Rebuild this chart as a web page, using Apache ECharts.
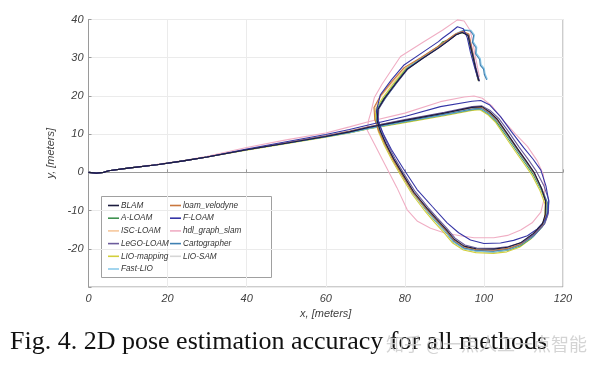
<!DOCTYPE html>
<html><head><meta charset="utf-8">
<script src="https://cdn.jsdelivr.net/npm/echarts@6/dist/echarts.min.js"></script>
<style>html,body{margin:0;padding:0;background:#fff}#c{width:600px;height:372px}</style>
</head><body><div id="c"></div>
<script>
// axis ticks
const xTicks = [0, 20, 40, 60, 80, 100, 120];
const yTicks = [-30, -20, -10, 0, 10, 20, 30, 40];
const legendCol1 = ['BLAM', 'A-LOAM', 'ISC-LOAM', 'LeGO-LOAM', 'LIO-mapping', 'Fast-LIO'];
const legendCol2 = ['loam_velodyne', 'F-LOAM', 'hdl_graph_slam', 'Cartographer', 'LIO-SAM'];

// trajectories [x, y] in meters
const BLAM = [[0,0],[2,-0.2],[3.8,0],[5.1,0.4],[10,1.1],[17.3,2.0],[24,3.0],[30,4.0],[40,5.9],[50,7.6],[60,9.4],[66,10.6],[71,11.8],[80,13.6],[90,15.5],[97,17.0],[99.5,17.2],[101.5,15.8],[103.4,13.9],[106,10],[108.5,6.2],[110.7,3],[112.7,0],[114.5,-4],[115.6,-7.5],[115.5,-11],[114.8,-13.5],[112.5,-16],[109.3,-18.4],[106,-19.6],[102.5,-20.1],[98,-20],[95,-19.3],[92.5,-17.5],[90.5,-15],[88,-12.2],[85.7,-9.5],[82.3,-5.2],[79.5,-0.5],[77.2,3.5],[75.2,7.5],[73.8,10.8],[73,13.5],[73.2,16.5],[74.8,19.3],[77.5,23],[80.6,27],[84.5,29.8],[88.5,32.5],[91,34.4],[93,36],[94.5,36.6],[96,35.8],[96.6,33],[97.3,30],[97.9,27.3],[98.6,24.5],[98.8,23.8]];
const loamVelodyne = [[0,0],[2,-0.2],[3.8,0],[5.1,0.4],[10,1.1],[17.3,2.0],[24,3.0],[30,4.0],[40,6.0],[50,7.8],[60,9.6],[66,10.8],[71,12.0],[80,13.7],[90,15.6],[97,16.9],[99.4,17.0],[101.5,15.6],[103.4,13.6],[106,9.8],[108.5,6.0],[110.7,2.8],[112.7,-0.3],[114.6,-4.2],[115.7,-7.8],[115.6,-11.3],[114.8,-13.8],[112.4,-16.4],[109.2,-18.8],[106,-19.9],[102.5,-20.4],[98,-20.2],[95,-19.5],[92.4,-17.7],[90.4,-15.2],[87.9,-12.4],[85.5,-9.6],[82.1,-5.3],[79.3,-0.6],[77,3.4],[75,7.4],[73.4,10.8],[72.4,13.8],[72.2,17],[73.8,20],[76.6,23.6],[79.8,27.4],[84,30],[88.2,32.8],[90.8,34.7],[92.8,36.2],[94.6,36.9],[96.2,36.2],[96.8,33.4],[97.4,30.4],[97.8,27.6],[98.4,25],[98.6,24.2]];
const ALOAM = [[0,0],[2,-0.2],[3.8,0],[5.1,0.4],[10,1.1],[17.3,2.0],[24,3.0],[30,4.0],[40,5.9],[50,7.6],[60,9.3],[66,10.4],[71,11.5],[80,13.2],[90,15.0],[97,16.4],[99.2,16.6],[101.3,15.2],[103.2,13.2],[105.8,9.4],[108.3,5.6],[110.5,2.4],[112.5,-0.6],[114.5,-4.6],[115.9,-8.2],[115.8,-11.6],[114.8,-14.2],[112.3,-17],[109.2,-19.2],[106,-20.4],[102.5,-20.8],[98,-20.6],[95,-20],[92.3,-18.2],[90.3,-15.6],[87.8,-12.8],[85.5,-10],[82.2,-5.6],[79.4,-0.8],[77.1,3.3],[75.1,7.3],[73.6,10.8],[72.8,13.6],[73,16.6],[74.7,19.4],[77.4,23.1],[80.5,27.2],[84.4,30],[88.4,32.8],[89.6,34.2],[91,34.6],[93,36.1],[94.6,36.6],[96,36],[96.5,33.2],[97.2,30.2],[97.8,27.4],[98.4,24.8],[98.6,24]];
const FLOAM = [[0,0],[2,-0.2],[3.8,0],[5.1,0.4],[10,1.1],[17.3,2.0],[24,3.0],[30,4.0],[40,6.1],[50,8.0],[60,9.9],[66,11.2],[71.3,12.5],[80,14.6],[89,17.2],[97,18.6],[99.2,18.8],[101.5,17.6],[104.2,14.6],[107,10.6],[110.1,6.4],[112.4,3.5],[114.4,0.6],[115.7,-3.6],[116.4,-7.6],[116.2,-10.4],[115.4,-12.6],[113.5,-14.8],[111,-16.6],[107.5,-17.8],[104.2,-18.5],[100,-18.6],[96.6,-17.7],[93.6,-15.8],[90.7,-13.2],[87,-9],[83.1,-4.5],[79.6,1],[76.6,6],[74.6,10],[73.4,13],[72.8,16],[73.8,20.3],[76.6,24.2],[79.8,28.1],[84.5,31.4],[88.5,34.2],[89.5,35.1],[91.5,36.6],[93.3,38.1],[94.8,37.6],[95.8,35.2],[96.6,31.4],[97.6,27.6],[98.4,24.8],[98.7,24]];
const ISCLOAM = [[0,0],[2,-0.2],[3.8,0],[5.1,0.4],[10,1.1],[17.3,2.0],[24,3.0],[30,4.0],[40,5.9],[50,7.6],[60,9.3],[66,10.5],[71,11.6],[80,13.3],[90,15.1],[97,16.5],[99.3,16.7],[101.4,15.3],[103.3,13.3],[105.9,9.5],[108.4,5.7],[110.6,2.5],[112.6,-0.5],[114.6,-4.5],[115.8,-8],[115.7,-11.5],[114.7,-14.1],[112.3,-16.9],[109.2,-19.1],[106,-20.3],[102.5,-20.7],[98,-20.5],[95,-19.9],[92.3,-18.1],[90.3,-15.5],[87.8,-12.7],[85.5,-9.9],[82.1,-5.5],[79.3,-0.7],[77,3.3],[75,7.3],[73.5,10.8],[72.6,13.8],[72.4,17],[73.9,19.8],[76.8,23.4],[80,27.3],[84.2,30],[88.3,32.7],[90.8,34.5],[92.8,36],[94.5,36.7],[96.1,36.1],[96.7,33.3],[97.3,30.3],[97.8,27.5],[98.4,24.8],[98.6,24]];
const hdlGraphSlam = [[0,0],[2,-0.2],[3.8,0],[5.1,0.4],[10,1.1],[17.3,2.1],[24,3.1],[30,4.2],[40,6.5],[50,8.5],[60,10.3],[66,11.9],[71,13.3],[80,15.5],[89,18.5],[95,19.7],[97.5,20],[99.6,19.4],[102,17.4],[105,13.5],[108,10],[111,6.8],[113.5,3],[115,-0.5],[115.4,-4],[115.2,-7.1],[114.4,-10.4],[112.2,-13.2],[109.3,-15.1],[106,-16.5],[102.5,-17.1],[97.5,-17.1],[94,-16.6],[89.9,-15.8],[86.5,-14.6],[83.2,-12.8],[80.6,-9.8],[78,-4],[75,2],[72.5,7],[70.5,11],[70.8,13.5],[71.5,16],[72.3,19.6],[74.3,23.2],[78.9,30.3],[84.5,34],[89.5,37.2],[93.3,39.9],[95,39.6],[96.5,37.2],[97.2,34],[97.8,30.5],[98.4,27.4],[98.9,25]];
const LeGOLOAM = [[0,0],[2,-0.2],[3.8,0],[5.1,0.4],[10,1.1],[17.3,2.0],[24,3.0],[30,4.0],[40,5.9],[50,7.7],[60,9.5],[66,10.7],[71,11.9],[80,13.8],[90,15.7],[97,17.2],[99.5,17.4],[101.7,16.1],[103.7,14.2],[106.4,10.4],[108.9,6.6],[111.2,3.4],[113.2,0.4],[115.2,-3.6],[116.4,-7.2],[116.3,-10.8],[115.4,-13.4],[113,-16],[109.7,-18.3],[106.2,-19.4],[102.6,-19.9],[98.2,-19.8],[95.2,-19],[92.7,-17.2],[90.7,-14.7],[88.2,-11.9],[85.9,-9.2],[82.6,-5],[79.8,-0.4],[77.5,3.6],[75.5,7.6],[74.1,10.9],[73.3,13.6],[73.4,16.6],[75,19.4],[77.7,23.1],[80.8,27.1],[84.6,29.9],[88.6,32.6],[91.1,34.5],[93.1,36.1],[94.6,36.7],[96.1,35.9],[96.7,33.1],[97.4,30.1],[98,27.4],[98.7,24.6],[98.9,23.9]];
const Cartographer = [[0,0],[2,-0.2],[3.8,0],[5.1,0.4],[10,1.1],[17.3,2.0],[24,3.0],[30,4.0],[40,5.9],[50,7.6],[60,9.3],[66,10.5],[71,11.6],[80,13.4],[90,15.2],[97,16.6],[99.3,16.8],[101.4,15.4],[103.4,13.6],[106,9.7],[108.5,5.9],[110.7,2.7],[112.7,-0.2],[114.7,-4.4],[116.1,-8],[116,-11.5],[115.2,-13.6],[112.6,-16.6],[109.3,-18.9],[106,-20.1],[102.5,-20.6],[98,-20.4],[95,-19.8],[92.4,-18],[90.5,-15.4],[88,-12.6],[85.7,-9.8],[82.3,-5.4],[79.5,-0.6],[77.2,3.4],[75.2,7.4],[73.8,10.9],[73,13.6],[73.3,16.6],[75.1,19.4],[77.8,23.2],[80.8,27.3],[84.6,30],[88.6,32.7],[91.1,34.6],[93.2,36.3],[95,37.2],[96.6,37],[97.4,35.8],[97.1,34],[98,32.6],[97.9,31],[98.9,29.6],[99.1,28],[99.9,27],[100.1,25.6],[100.7,24.2]];
const LIOmapping = [[0,0],[2,-0.2],[3.8,0],[5.1,0.4],[10,1.1],[17.3,2.0],[24,3.0],[30,4.0],[40,5.8],[50,7.5],[60,9.2],[66,10.3],[71,11.4],[80,13.0],[90,14.8],[97,16.2],[99,16.4],[101.1,15],[103,13],[105.5,9.2],[108,5.4],[110.2,2.2],[112.2,-0.8],[114.2,-4.8],[115.5,-8.4],[115.4,-11.8],[114.4,-14.4],[112,-17.3],[109,-19.6],[105.8,-20.8],[102.4,-21.2],[98,-21],[94.8,-20.3],[92.1,-18.5],[90,-15.9],[87.5,-13.1],[85.2,-10.3],[81.9,-5.8],[79.1,-1],[76.8,3.1],[74.8,7.1],[73.3,10.7],[72.5,13.7],[72.7,16.7],[74.4,19.5],[77.1,23.2],[80.3,27.2],[84.2,30],[88.2,32.8],[90.6,34.5],[92.7,36],[94.4,36.6],[95.9,36],[96.5,33.2],[97.2,30.2],[97.8,27.4],[98.4,24.8],[98.6,24]];
const LIOSAM = [[0,0],[2,-0.2],[3.8,0],[5.1,0.4],[10,1.1],[17.3,2.0],[24,3.0],[30,4.0],[40,5.9],[50,7.6],[60,9.3],[66,10.5],[71,11.6],[80,13.3],[90,15.1],[97,16.5],[99.3,16.7],[101.4,15.3],[103.3,13.4],[105.9,9.6],[108.4,5.8],[110.6,2.6],[112.6,-0.4],[114.6,-4.4],[115.9,-8.1],[115.8,-11.5],[114.9,-14],[112.4,-16.8],[109.3,-19],[106,-20.2],[102.5,-20.6],[98,-20.4],[95,-19.8],[92.4,-18],[90.4,-15.4],[87.9,-12.6],[85.6,-9.8],[82.2,-5.4],[79.4,-0.6],[77.1,3.4],[75.1,7.4],[73.7,10.9],[72.9,13.6],[73.1,16.6],[74.8,19.4],[77.5,23.1],[80.6,27.2],[84.5,30],[88.5,32.7],[91,34.5],[93,36.1],[94.6,36.7],[96.1,36],[96.7,33.2],[97.3,30.2],[97.9,27.4],[98.5,24.8],[98.7,24]];
const FastLIO = [[0,0],[2,-0.2],[3.8,0],[5.1,0.4],[10,1.1],[17.3,2.0],[24,3.0],[30,4.0],[40,5.9],[50,7.6],[60,9.3],[66,10.4],[71,11.5],[80,13.3],[90,15.1],[97,16.5],[99.2,16.7],[101.3,15.3],[103.3,13.5],[105.9,9.6],[108.4,5.8],[110.6,2.6],[112.6,-0.3],[114.6,-4.5],[116,-8.1],[115.9,-11.6],[115.1,-13.7],[112.5,-16.7],[109.2,-19],[105.9,-20.3],[102.5,-20.8],[98,-20.6],[95,-20],[92.3,-18.2],[90.4,-15.6],[87.9,-12.8],[85.6,-10],[82.2,-5.6],[79.4,-0.7],[77.1,3.3],[75.1,7.3],[73.7,10.8],[72.9,13.6],[73.2,16.6],[75,19.4],[77.7,23.2],[80.7,27.3],[84.5,30.1],[88.5,32.8],[91,34.7],[93.1,36.4],[95,37.3],[96.7,37.2],[97.6,36],[97.3,34.2],[98.2,32.8],[98.1,31.2],[99.1,29.8],[99.3,28.2],[100.1,27.2],[100.3,25.8],[100.9,24.3]];

const seriesDefs = [
  ['hdl_graph_slam', hdlGraphSlam, '#f0aec4'],
  ['LIO-SAM', LIOSAM, '#d6d6d6'],
  ['ISC-LOAM', ISCLOAM, '#f6c89c'],
  ['LIO-mapping', LIOmapping, '#d2cf3c'],
  ['A-LOAM', ALOAM, '#3f9150'],
  ['Fast-LIO', FastLIO, '#8ccbea'],
  ['Cartographer', Cartographer, '#3f80b2'],
  ['loam_velodyne', loamVelodyne, '#c9773e'],
  ['LeGO-LOAM', LeGOLOAM, '#6c5c9c'],
  ['F-LOAM', FLOAM, '#3535a6'],
  ['BLAM', BLAM, '#1b1b3e']
];

const chart = echarts.init(document.getElementById('c'), null, {renderer: 'canvas'});
const font = 'Liberation Sans, Arial, sans-serif';
const lbl = {color: '#404040', fontSize: 11, fontStyle: 'italic', fontFamily: font};
const legendBase = {
  orient: 'vertical', itemWidth: 11, itemHeight: 1.6, icon: 'rect', itemGap: 2.7,
  padding: 0,
  textStyle: {color: '#333', fontSize: 8.2, fontStyle: 'italic', fontFamily: font, lineHeight: 10, padding: [0, 0, 0, -3]}
};
chart.setOption({
  animation: false,
  backgroundColor: '#fff',
  grid: {left: 88.5, right: 37, top: 19.5, bottom: 85, show: true, borderColor: '#9a9a9a', borderWidth: 1, backgroundColor: 'transparent'},
  xAxis: {
    type: 'value', min: xTicks[0], max: xTicks[xTicks.length - 1], interval: 20,
    name: 'x, [meters]', nameLocation: 'middle', nameGap: 20,
    nameTextStyle: {color: '#404040', fontSize: 11, fontStyle: 'italic', fontFamily: font},
    axisLine: {show: true, lineStyle: {color: '#9a9a9a'}},
    axisTick: {show: true, inside: true, length: 3, lineStyle: {color: '#9a9a9a'}},
    axisLabel: Object.assign({margin: 6}, lbl),
    splitLine: {show: true, lineStyle: {color: '#ebebeb', width: 1}}
  },
  yAxis: {
    type: 'value', min: yTicks[0], max: yTicks[yTicks.length - 1], interval: 10,
    name: 'y, [meters]', nameLocation: 'middle', nameGap: 27, nameRotate: 90,
    nameTextStyle: {color: '#404040', fontSize: 11, fontStyle: 'italic', fontFamily: font},
    axisLine: {show: true, lineStyle: {color: '#9a9a9a'}},
    axisTick: {show: true, inside: true, length: 3, lineStyle: {color: '#9a9a9a'}},
    axisLabel: Object.assign({margin: 5, formatter: v => v === yTicks[0] ? '' : String(v)}, lbl),
    splitLine: {show: true, lineStyle: {color: '#ebebeb', width: 1}}
  },
  legend: [
    Object.assign({left: 108, top: 200.5, data: legendCol1}, legendBase),
    Object.assign({left: 170, top: 200.5, data: legendCol2}, legendBase)
  ],
  graphic: [
    {type: 'rect', left: 101, top: 196, shape: {width: 170, height: 81}, style: {fill: '#fff', stroke: '#a0a0a0', lineWidth: 1}, z: 0},
    {type: 'text', left: 10, top: 329, style: {text: 'Fig. 4. 2D pose estimation accuracy for all methods', fill: '#111', font: '26px "Liberation Serif", "DejaVu Serif", serif'}, z: 10},
    {type: 'text', left: 386, top: 335, style: {text: '知乎 @一点人工一点智能', fill: 'rgba(205,205,205,0.85)', font: '18px "Noto Sans CJK SC", sans-serif'}, z: 11}
  ],
  series: seriesDefs.map(d => ({
    name: d[0], type: 'line', data: d[1], showSymbol: false, symbol: 'none',
    lineStyle: {color: d[2], width: 1.1}, itemStyle: {color: d[2]}, z: 3
  }))
});
</script></body></html>
